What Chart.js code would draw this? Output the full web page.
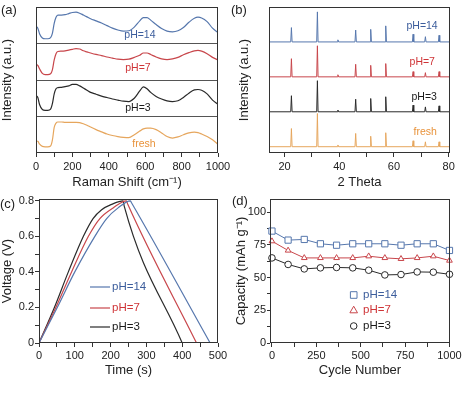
<!DOCTYPE html>
<html><head><meta charset="utf-8">
<script src="https://cdn.jsdelivr.net/npm/chart.js@4/dist/chart.umd.min.js"></script>
<style>
html,body{margin:0;padding:0;background:#fff;}
#wrap{position:relative;width:474px;height:395px;overflow:hidden;font-family:"Liberation Sans",Arial,sans-serif;}
canvas{position:absolute;left:0;top:0;}
.pl{position:absolute;font-size:13px;line-height:15px;color:#222;}
</style></head><body>
<div id="wrap">
<canvas id="ca" width="474" height="395"></canvas>
<canvas id="cb" width="474" height="395"></canvas>
<canvas id="cc" width="474" height="395"></canvas>
<canvas id="cd" width="474" height="395"></canvas>
<div class="pl" style="left:1px;top:2px">(a)</div>
<div class="pl" style="left:231px;top:2px">(b)</div>
<div class="pl" style="left:0px;top:196px">(c)</div>
<div class="pl" style="left:232px;top:193px">(d)</div>
</div>
<script>
// ---------------- data ----------------
const seriesNames = ['pH=14', 'pH=7', 'pH=3', 'fresh'];

// (a) Raman spectra (normalised intensity within each strip)
const ramanShift = [0,10,20,35,50,65,80,90,100,110,120,140,160,180,200,220,240,260,280,300,330,360,390,420,450,480,510,540,570,590,610,630,660,690,720,750,780,810,840,870,890,910,940,970,1000];
const ramanPH14  = [0.47,0.42,0.26,0.15,0.13,0.13,0.16,0.28,0.55,0.72,0.78,0.78,0.79,0.82,0.85,0.86,0.83,0.78,0.73,0.68,0.62,0.56,0.49,0.42,0.37,0.34,0.35,0.45,0.62,0.71,0.71,0.64,0.52,0.41,0.34,0.32,0.35,0.44,0.58,0.69,0.72,0.70,0.60,0.42,0.30];
const ramanPH7   = [0.43,0.40,0.30,0.18,0.15,0.15,0.17,0.28,0.55,0.72,0.78,0.79,0.80,0.82,0.84,0.86,0.85,0.80,0.77,0.74,0.70,0.67,0.63,0.60,0.57,0.56,0.57,0.62,0.68,0.74,0.74,0.70,0.63,0.58,0.56,0.58,0.62,0.69,0.75,0.80,0.81,0.79,0.72,0.62,0.55];
const ramanPH3   = [0.58,0.52,0.32,0.19,0.17,0.17,0.20,0.35,0.62,0.76,0.79,0.80,0.82,0.84,0.88,0.88,0.84,0.78,0.72,0.66,0.61,0.56,0.52,0.48,0.45,0.42,0.41,0.50,0.70,0.81,0.76,0.66,0.55,0.48,0.43,0.41,0.43,0.52,0.64,0.73,0.74,0.72,0.62,0.45,0.33];
const ramanFresh = [0.33,0.32,0.24,0.18,0.17,0.17,0.19,0.35,0.70,0.82,0.85,0.85,0.84,0.84,0.84,0.84,0.83,0.80,0.76,0.71,0.64,0.58,0.52,0.48,0.45,0.43,0.42,0.50,0.60,0.66,0.68,0.68,0.64,0.55,0.45,0.41,0.44,0.50,0.55,0.57,0.56,0.52,0.45,0.36,0.24];
const ramanTicks = [0,100,200,300,400,500,600,700,800,900,1000];
const ramanLabels = [0,200,400,600,800,1000];

// (b) XRD: peak positions (2 theta) and peak heights
const xrdPeaks = [22.5, 32.0, 39.5, 46.0, 51.5, 57.0, 67.0, 71.5, 76.5];
const xrdPH14  = [0.41, 0.86, 0.06, 0.34, 0.36, 0.46, 0.22, 0.15, 0.19];
const xrdPH7   = [0.52, 0.89, 0.06, 0.36, 0.33, 0.38, 0.15, 0.12, 0.15];
const xrdPH3   = [0.46, 0.89, 0.05, 0.36, 0.38, 0.43, 0.19, 0.14, 0.17];
const xrdFresh = [0.52, 0.95, 0.05, 0.38, 0.30, 0.40, 0.17, 0.14, 0.14];
const xrdTicks = [20,30,40,50,60,70,80];
const xrdLabels = [20,40,60,80];

// (c) galvanostatic charge/discharge
const gcdTimePH14 = [0, 51, 100, 156, 189, 221, 255, 258, 478];
const gcdVoltPH14 = [0, 0.20, 0.40, 0.60, 0.70, 0.76, 0.80, 0.79, 0];
const gcdTimePH7  = [0, 47, 91, 138, 170, 207, 244, 248, 440];
const gcdVoltPH7  = [0, 0.20, 0.40, 0.60, 0.70, 0.76, 0.80, 0.78, 0];
const gcdTimePH3  = [0, 43, 82, 124, 151, 175, 203, 235, 238, 400];
const gcdVoltPH3  = [0, 0.20, 0.40, 0.60, 0.70, 0.75, 0.78, 0.80, 0.77, 0];
const timeTicks = [0,50,100,150,200,250,300,350,400,450,500];
const timeLabels = [0,100,200,300,400,500];
const voltTicks = [0,0.1,0.2,0.3,0.4,0.5,0.6,0.7,0.8];
const voltLabels = [0,0.2,0.4,0.6,0.8];

// (d) cycling capacity
const cycles  = [0, 91, 182, 273, 364, 455, 545, 636, 727, 818, 909, 1000];
const capPH14 = [85.5, 78.6, 79.1, 75.8, 74.7, 75.8, 75.8, 75.8, 74.7, 75.8, 75.8, 70.7];
const capPH7  = [77.8, 70.7, 65.0, 65.0, 65.0, 65.0, 66.3, 65.0, 64.3, 65.0, 66.3, 63.0];
const capPH3  = [65.0, 60.0, 56.6, 57.4, 57.7, 57.4, 55.6, 52.0, 52.3, 54.3, 54.1, 52.5];
const cycleTicks = [0,125,250,375,500,625,750,875,1000];
const cycleLabels = [0,250,500,750,1000];
const capTicks = [0,12.5,25,37.5,50,62.5,75,87.5,100];
const capLabels = [0,25,50,75,100];

// ---------------- styling ----------------
const FONT = '"Liberation Sans", Arial, Helvetica, sans-serif';
Chart.defaults.font.family = FONT;
Chart.defaults.font.size = 11;
Chart.defaults.color = '#222';
const AX = '#333';
const LINE = {blue:'#5677ad', red:'#c8464b', black:'#2a2a2a', orange:'#e6a65d'};
const TXT  = {blue:'#3c5d9c', red:'#cf3437', black:'#1a1a1a', orange:'#e8923a'};

function setTicks(vals){ return s => { s.ticks = vals.map(v => ({value: v})); }; }
function fixX(h){ return s => { s.height = h; s.paddingLeft = 0; s.paddingRight = 0; }; }
function fixY(w){ return s => { s.width = w; s.paddingTop = 0; s.paddingBottom = 0; }; }
function labelIf(list, fmt){ return v => list.some(l => Math.abs(l - v) < 1e-6) ? (fmt ? fmt(v) : String(v)) : ''; }

const framePlugin = {
  id: 'frame',
  afterDatasetsDraw(c){
    const a = c.chartArea, ctx = c.ctx;
    ctx.save(); ctx.strokeStyle = AX; ctx.lineWidth = 1;
    ctx.strokeRect(Math.round(a.left) + 0.5, Math.round(a.top) + 0.5, Math.round(a.right - a.left) - 1, Math.round(a.bottom - a.top) - 1);
    ctx.restore();
  }
};
const textPlugin = {
  id: 'textLabels',
  afterDatasetsDraw(c, args, opts){
    if (!opts || !opts.items) return;
    const ctx = c.ctx, x = c.scales.x, y = c.scales.y;
    ctx.save(); ctx.font = opts.font; ctx.textBaseline = 'middle';
    opts.items.forEach(it => {
      ctx.fillStyle = it.color; ctx.textAlign = it.align || 'center';
      ctx.fillText(it.text, x.getPixelForValue(it.x), y.getPixelForValue(it.y));
    });
    ctx.restore();
  }
};
const legendPlugin = {
  id: 'customLegend',
  afterDatasetsDraw(c, args, opts){
    if (!opts || !opts.rows) return;
    const ctx = c.ctx, a = c.chartArea;
    ctx.save(); ctx.font = opts.font; ctx.textBaseline = 'middle'; ctx.textAlign = 'left';
    opts.rows.forEach((r, i) => {
      const ds = c.data.datasets[i];
      const y = a.top + r.dy;
      ctx.strokeStyle = ds.borderColor; ctx.lineWidth = 1.2;
      if (opts.kind === 'line') {
        ctx.beginPath(); ctx.moveTo(a.left + opts.x0, y); ctx.lineTo(a.left + opts.x1, y); ctx.stroke();
      } else {
        const cx = a.left + opts.x0, rr = 3.3;
        ctx.fillStyle = '#fff'; ctx.lineWidth = 1;
        ctx.beginPath();
        if (ds.pointStyle === 'rect') { ctx.rect(cx - rr, y - rr, 2*rr, 2*rr); }
        else if (ds.pointStyle === 'triangle') { ctx.moveTo(cx, y - rr - 0.5); ctx.lineTo(cx + rr + 0.5, y + rr - 0.5); ctx.lineTo(cx - rr - 0.5, y + rr - 0.5); ctx.closePath(); }
        else { ctx.arc(cx, y, rr, 0, Math.PI*2); }
        ctx.fill(); ctx.stroke();
      }
      ctx.fillStyle = r.color;
      ctx.fillText(ds.label, a.left + opts.tx, y);
    });
    ctx.restore();
  }
};

const base = {responsive:false, animation:false, devicePixelRatio:1, events:[]};

// ---------------- (a) Raman ----------------
function ramanSet(vals, offset, color, label){
  return {label, data: vals.map((v, i) => ({x: ramanShift[i], y: v + offset})), borderColor: color, borderWidth: 1.2, pointRadius: 0, cubicInterpolationMode: 'monotone', fill: false};
}
new Chart(document.getElementById('ca'), {
  type: 'line',
  data: {datasets: [
    ramanSet(ramanPH14, 3, LINE.blue, seriesNames[0]),
    ramanSet(ramanPH7, 2, LINE.red, seriesNames[1]),
    ramanSet(ramanPH3, 1, LINE.black, seriesNames[2]),
    ramanSet(ramanFresh, 0, LINE.orange, seriesNames[3])
  ]},
  options: Object.assign({}, base, {
    layout: {padding: {left: 0, top: 7, right: 256, bottom: 200}},
    plugins: {legend: {display: false}, tooltip: {enabled: false},
      textLabels: {font: '10.5px ' + FONT, items: [
        {text: seriesNames[0], color: TXT.blue, x: 571, y: 3.23},
        {text: seriesNames[1], color: TXT.red, x: 560, y: 2.33},
        {text: seriesNames[2], color: TXT.black, x: 560, y: 1.23},
        {text: seriesNames[3], color: TXT.orange, x: 593, y: 0.25}
      ]}},
    scales: {
      x: {type: 'linear', min: 0, max: 1000, afterBuildTicks: setTicks(ramanTicks), afterFit: fixX(42),
        border: {display: false}, grid: {drawOnChartArea: false, drawTicks: true, tickLength: 4, color: AX},
        ticks: {padding: 3, autoSkip: false, maxRotation: 0, callback: labelIf(ramanLabels)},
        title: {display: true, text: 'Raman Shift (cm⁻¹)', font: {size: 13}, color: '#222', padding: {top: 0, bottom: 5}}},
      y: {type: 'linear', min: 0, max: 4, afterBuildTicks: setTicks([0,1,2,3,4]), afterFit: fixY(36),
        border: {display: false},
        grid: {drawTicks: false, color: c => (c.tick && c.tick.value > 0 && c.tick.value < 4) ? '#555' : 'rgba(0,0,0,0)'},
        ticks: {display: false},
        title: {display: true, text: 'Intensity (a.u.)', font: {size: 13}, color: '#222', padding: {top: 0, bottom: 0}}}
    }
  }),
  plugins: [framePlugin, textPlugin]
});

// ---------------- (b) XRD ----------------
const XRD_MIN = 14.3, XRD_MAX = 80.5;
function xrdSet(heights, offset, color, label){
  const pts = [{x: XRD_MIN, y: offset}];
  xrdPeaks.forEach((p, i) => { pts.push({x: p - 0.25, y: offset}, {x: p, y: offset + heights[i]}, {x: p + 0.25, y: offset}); });
  pts.push({x: XRD_MAX, y: offset});
  return {label, data: pts, borderColor: color, borderWidth: 1, pointRadius: 0, tension: 0, fill: false};
}
new Chart(document.getElementById('cb'), {
  type: 'line',
  data: {datasets: [
    xrdSet(xrdPH14, 3, LINE.blue, seriesNames[0]),
    xrdSet(xrdPH7, 2, LINE.red, seriesNames[1]),
    xrdSet(xrdPH3, 1, LINE.black, seriesNames[2]),
    xrdSet(xrdFresh, 0, LINE.orange, seriesNames[3])
  ]},
  options: Object.assign({}, base, {
    layout: {padding: {left: 237, top: 7, right: 24, bottom: 200}},
    plugins: {legend: {display: false}, tooltip: {enabled: false},
      textLabels: {font: '10.5px ' + FONT, items: [
        {text: seriesNames[0], color: TXT.blue, x: 76, y: 3.46, align: 'right'},
        {text: seriesNames[1], color: TXT.red, x: 75, y: 2.43, align: 'right'},
        {text: seriesNames[2], color: TXT.black, x: 75.7, y: 1.42, align: 'right'},
        {text: seriesNames[3], color: TXT.orange, x: 75.7, y: 0.42, align: 'right'}
      ]}},
    scales: {
      x: {type: 'linear', min: XRD_MIN, max: XRD_MAX, afterBuildTicks: setTicks(xrdTicks), afterFit: fixX(42),
        border: {display: false}, grid: {drawOnChartArea: false, drawTicks: true, tickLength: 4, color: AX},
        ticks: {padding: 3, autoSkip: false, maxRotation: 0, callback: labelIf(xrdLabels)},
        title: {display: true, text: '2 Theta', font: {size: 13}, color: '#222', padding: {top: 0, bottom: 5}}},
      y: {type: 'linear', min: -0.18, max: 4.0, afterFit: fixY(32), border: {display: false},
        grid: {display: false}, ticks: {display: false},
        title: {display: true, text: 'Intensity (a.u.)', font: {size: 13}, color: '#222', padding: {top: 0, bottom: 0}}}
    }
  }),
  plugins: [framePlugin, textPlugin]
});

// ---------------- (c) GCD ----------------
function gcdSet(t, v, color, label){
  return {label, data: t.map((x, i) => ({x, y: v[i]})), borderColor: color, borderWidth: 1.2, pointRadius: 0, cubicInterpolationMode: 'monotone', fill: false};
}
new Chart(document.getElementById('cc'), {
  type: 'line',
  data: {datasets: [
    gcdSet(gcdTimePH14, gcdVoltPH14, LINE.blue, seriesNames[0]),
    gcdSet(gcdTimePH7, gcdVoltPH7, LINE.red, seriesNames[1]),
    gcdSet(gcdTimePH3, gcdVoltPH3, LINE.black, seriesNames[2])
  ]},
  options: Object.assign({}, base, {
    layout: {padding: {left: 0, top: 199, right: 256, bottom: 0}},
    plugins: {legend: {display: false}, tooltip: {enabled: false},
      customLegend: {kind: 'line', font: '11.5px ' + FONT, x0: 51, x1: 71, tx: 73, rows: [
        {dy: 88, color: TXT.blue}, {dy: 109, color: TXT.red}, {dy: 128, color: TXT.black}
      ]}},
    scales: {
      x: {type: 'linear', min: 0, max: 500, afterBuildTicks: setTicks(timeTicks), afterFit: fixX(52),
        border: {display: false}, grid: {drawOnChartArea: false, drawTicks: true, tickLength: 4, color: AX},
        ticks: {padding: 2, autoSkip: false, maxRotation: 0, callback: labelIf(timeLabels)},
        title: {display: true, text: 'Time (s)', font: {size: 13}, color: '#222', padding: {top: 0, bottom: 17}}},
      y: {type: 'linear', min: 0, max: 0.81, afterBuildTicks: setTicks(voltTicks), afterFit: fixY(39),
        border: {display: false}, grid: {drawOnChartArea: false, drawTicks: true, tickLength: 4, color: AX},
        ticks: {padding: 1, autoSkip: false, callback: labelIf(voltLabels, v => v === 0 ? '0' : v.toFixed(1))},
        title: {display: true, text: 'Voltage (V)', font: {size: 13}, color: '#222', padding: {top: 0, bottom: 0}}}
    }
  }),
  plugins: [framePlugin, legendPlugin]
});

// ---------------- (d) cycling ----------------
function capSet(vals, color, style, label){
  return {label, data: vals.map((v, i) => ({x: cycles[i], y: v})), borderColor: color, borderWidth: 1,
    pointStyle: style, pointRadius: style === 'rect' ? 4.4 : 3.3, pointBorderWidth: 1, pointBorderColor: color,
    pointBackgroundColor: '#fff', tension: 0, clip: false, fill: false};
}
new Chart(document.getElementById('cd'), {
  type: 'line',
  data: {datasets: [
    capSet(capPH14, LINE.blue, 'rect', seriesNames[0]),
    capSet(capPH7, LINE.red, 'triangle', seriesNames[1]),
    capSet(capPH3, LINE.black, 'circle', seriesNames[2])
  ]},
  options: Object.assign({}, base, {
    layout: {padding: {left: 234, top: 199, right: 24, bottom: 0}},
    plugins: {legend: {display: false}, tooltip: {enabled: false},
      customLegend: {kind: 'marker', font: '11.5px ' + FONT, x0: 83.7, tx: 93, rows: [
        {dy: 96, color: TXT.blue}, {dy: 111, color: TXT.red}, {dy: 127, color: TXT.black}
      ]}},
    scales: {
      x: {type: 'linear', min: -11, max: 1003, afterBuildTicks: setTicks(cycleTicks), afterFit: fixX(52),
        border: {display: false}, grid: {drawOnChartArea: false, drawTicks: true, tickLength: 4, color: AX},
        ticks: {padding: 2, autoSkip: false, maxRotation: 0, callback: labelIf(cycleLabels)},
        title: {display: true, text: 'Cycle Number', font: {size: 13}, color: '#222', padding: {top: 0, bottom: 17}}},
      y: {type: 'linear', min: 0, max: 110, afterBuildTicks: setTicks(capTicks), afterFit: fixY(36),
        border: {display: false}, grid: {drawOnChartArea: false, drawTicks: true, tickLength: 3, color: AX},
        ticks: {padding: 1, autoSkip: false, callback: labelIf(capLabels)},
        title: {display: true, text: 'Capacity (mAh g⁻¹)', font: {size: 13}, color: '#222', padding: {top: 0, bottom: 0}}}
    }
  }),
  plugins: [framePlugin, legendPlugin]
});
</script>
</body></html>
